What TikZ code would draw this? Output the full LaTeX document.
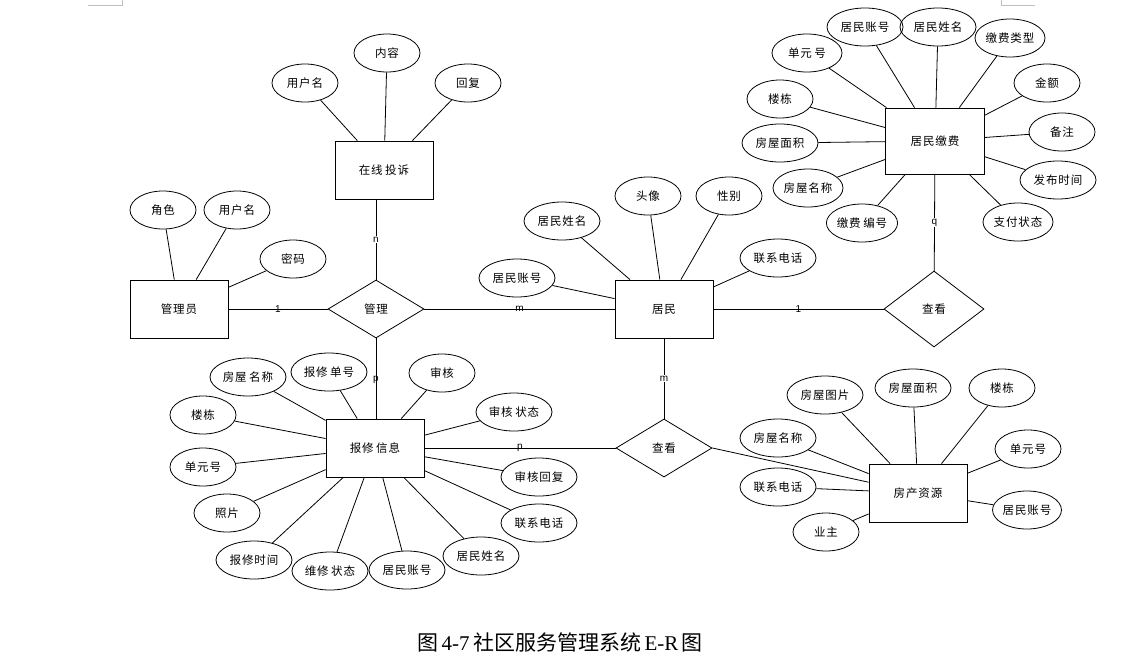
\documentclass[tikz,border=0pt]{standalone}
\usepackage{fontspec}
\usetikzlibrary{shapes.geometric}
\newfontfamily\cjk[LetterSpace=8]{Noto Sans CJK SC}
\newfontfamily\cjkcap{Noto Sans CJK SC}
\newfontfamily\latcap{Liberation Serif}
\newfontfamily\cardfont{Liberation Sans}
\newcommand\cjkf{\cjk\fontsize{11.5pt}{13pt}\selectfont}
\newcommand\cardf{\cardfont\fontsize{10pt}{11pt}\selectfont}
\newcommand\gapx{\hspace{2.5pt}}
\tikzset{
  ent/.style={draw, rectangle, minimum width=98pt, minimum height=58pt, inner sep=0pt, font=\cjkf, line width=0.8pt},
  attr/.style={draw, ellipse, minimum width=66pt, minimum height=38pt, inner sep=0pt, font=\cjkf, line width=0.8pt},
  wattr/.style={attr, minimum width=76pt},
  rel/.style={draw, diamond, minimum width=96pt, minimum height=58pt, inner sep=0pt, font=\cjkf, line width=0.8pt},
  card/.style={font=\cardf, inner sep=1pt},
  conn/.style={line width=0.8pt},
  pagemark/.style={draw=black!25, line width=0.6pt}
}
\begin{document}
\begin{tikzpicture}[x=1pt,y=-1pt]
\useasboundingbox (0,0) rectangle (1130,662);
% page corner marks
\coordinate (m1a) at (88,5); \coordinate (m1b) at (122,5); \coordinate (m1c) at (122,0);
\coordinate (m2a) at (1035,5); \coordinate (m2b) at (1001,5); \coordinate (m2c) at (1001,0);
\draw[pagemark] (m1a) -- (m1b) -- (m1c);
\draw[pagemark] (m2a) -- (m2b) -- (m2c);

% entities
\node[ent] (ts) at (384,170) {在线\gapx 投诉};
\node[ent] (gly) at (179,309) {管理员};
\node[ent] (jm) at (664,309) {居民};
\node[ent, minimum width=99pt, minimum height=66pt] (jf) at (935,141) {居民缴费};
\node[ent] (bx) at (375,448) {报修\gapx 信息};
\node[ent] (fc) at (918,493) {房产资源};

% relationships
\node[rel] (gl) at (376,309) {管理};
\node[rel, minimum width=100pt, minimum height=76pt] (ck1) at (934,309) {查看};
\node[rel] (ck2) at (664,448) {查看};

% relationship connectors
\draw[conn] (gl.north) -- node[card, fill=white] {n} (gl.north |- ts.south);
\draw[conn] (gly) -- node[card] {1} (gl);
\draw[conn] (gl) -- node[card] {m} (jm);
\draw[conn] (gl.south) -- (gl.south |- bx.north);
\node[card] (lp1) at (376,380) {p};
\draw[conn] (jm) -- node[card] {1} (ck1);
\draw[conn] (ck1) -- node[card, fill=white] {q} (jf);
\draw[conn] (jm) -- node[card, fill=white] {m} (ck2);
\draw[conn] (bx) -- node[card] {p} (ck2);
\draw[conn] (ck2.east) -- (fc);

% 在线投诉 attributes
\node[attr] (ts1) at (305,83) {用户名};
\node[attr] (ts2) at (387,53) {内容};
\node[attr] (ts3) at (468,83) {回复};
\foreach \a in {ts1,ts2,ts3} \draw[conn] (\a) -- (ts);

% 管理员 attributes
\node[attr] (g1) at (163,210) {角色};
\node[attr] (g2) at (237,210) {用户名};
\node[attr] (g3) at (293,259) {密码};
\foreach \a in {g1,g2,g3} \draw[conn] (\a) -- (gly);

% 居民 attributes
\node[wattr] (j1) at (517,278) {居民账号};
\node[wattr] (j2) at (562,221) {居民姓名};
\node[attr] (j3) at (648,196) {头像};
\node[attr] (j4) at (729,196) {性别};
\node[wattr] (j5) at (778,258) {联系电话};
\foreach \a in {j1,j2,j3,j4,j5} \draw[conn] (\a) -- (jm);

% 居民缴费 attributes
\node[wattr] (f1) at (865,27) {居民账号};
\node[wattr] (f2) at (938,27) {居民姓名};
\node[wattr, minimum width=70pt] (f3) at (1010,38) {缴费类型};
\node[attr] (f4) at (1047,83) {金额};
\node[attr] (f5) at (1062,132) {备注};
\node[wattr] (f6) at (1058,180) {发布时间};
\node[attr, minimum width=70pt] (f7) at (1018,222) {支付状态};
\node[attr, minimum width=70pt] (f8) at (862,223) {缴费\gapx 编号};
\node[attr, minimum width=70pt] (f9) at (808,188) {房屋名称};
\node[wattr] (f10) at (780,143) {房屋面积};
\node[attr] (f11) at (780,99) {楼栋};
\node[attr, minimum width=70pt] (f12) at (807,53) {单元\gapx 号};
\foreach \a in {f1,f2,f3,f4,f5,f6,f7,f8,f9,f10,f11,f12} \draw[conn] (\a) -- (jf);

% 报修信息 attributes
\node[wattr] (b1) at (248,377) {房屋\gapx 名称};
\node[wattr] (b2) at (329,372) {报修\gapx 单号};
\node[attr] (b3) at (442,373) {审核};
\node[wattr] (b4) at (514,412) {审核\gapx 状态};
\node[attr] (b5) at (203,415) {楼栋};
\node[attr] (b6) at (203,467) {单元号};
\node[attr] (b7) at (227,513) {照片};
\node[wattr] (b8) at (254,560) {报修时间};
\node[wattr] (b9) at (330,571) {维修\gapx 状态};
\node[wattr] (b10) at (407,570) {居民账号};
\node[wattr] (b11) at (481,556) {居民姓名};
\node[wattr] (b12) at (539,523) {联系电话};
\node[wattr] (b13) at (539,477) {审核回复};
\foreach \a in {b1,b2,b3,b4,b5,b6,b7,b8,b9,b10,b11,b12,b13} \draw[conn] (\a) -- (bx);

% 房产资源 attributes
\node[wattr] (c1) at (825,395) {房屋图片};
\node[wattr] (c2) at (913,388) {房屋面积};
\node[attr] (c3) at (1002,388) {楼栋};
\node[wattr] (c4) at (778,438) {房屋名称};
\node[attr] (c5) at (1028,449) {单元号};
\node[wattr] (c6) at (778,487) {联系电话};
\node[attr] (c7) at (1027,510) {居民账号};
\node[attr] (c8) at (826,532) {业主};
\foreach \a in {c1,c2,c3,c4,c5,c6,c7,c8} \draw[conn] (\a) -- (fc);

% caption
\node[inner sep=0pt] (cap) at (560,642) {\fontsize{21pt}{24pt}\selectfont\cjkcap 图\,\latcap 4-7\,\cjkcap 社区服务管理系统\,\latcap E-R\,\cjkcap 图};
\end{tikzpicture}
\end{document}
